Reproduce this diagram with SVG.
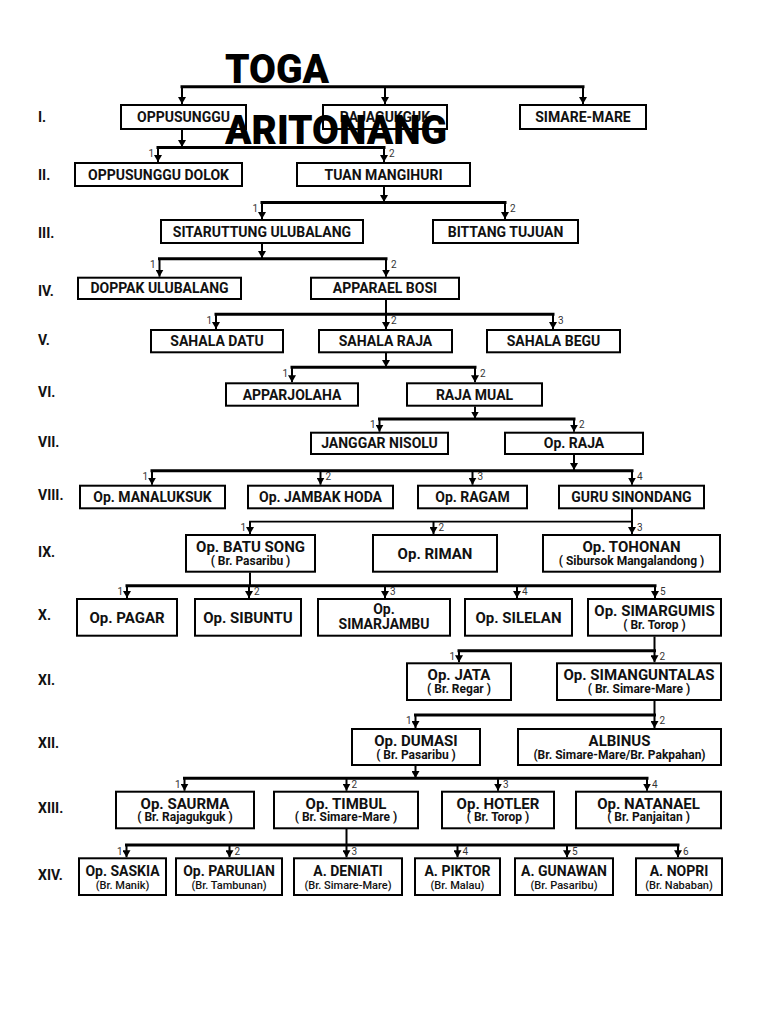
<svg xmlns="http://www.w3.org/2000/svg" width="768" height="1024" viewBox="0 0 768 1024">
<style>
.bg{fill:#fff}
.box{fill:#fff;stroke:#000;stroke-width:2}
.t{font-family:Roboto,"Liberation Sans",sans-serif;font-weight:700;font-size:14px;text-anchor:middle;fill:#111}
.b{font-size:15px}
.b14{font-size:14px}
.s{font-size:12px}
.s2{font-size:11px;font-weight:500}
.bus{stroke:#000;stroke-width:3;fill:none;stroke-linecap:square}
.thin{stroke-width:1.8}
.stem{stroke:#000;stroke-width:2;fill:none}
.n{font-family:Roboto,"Liberation Sans",sans-serif;font-size:10px;fill:#333}
.ne{text-anchor:end}
.lvl{font-family:Roboto,"Liberation Sans",sans-serif;font-weight:700;font-size:14px;fill:#111}
.title{font-family:Roboto,"Liberation Sans",sans-serif;font-weight:900;font-size:41px;fill:#000}
</style>
<defs>
<marker id="ah" markerUnits="userSpaceOnUse" markerWidth="7" markerHeight="8" refX="7" refY="4" orient="auto">
<path d="M0,0 L7,4 L0,8 z" fill="#000"/>
</marker>
</defs>
<rect class="bg" x="0" y="0" width="768" height="1024"/>

<g id="levels">
<text class="lvl" x="38" y="122">I.</text>
<text class="lvl" x="38" y="180">II.</text>
<text class="lvl" x="38" y="238">III.</text>
<text class="lvl" x="38" y="296">IV.</text>
<text class="lvl" x="38" y="345">V.</text>
<text class="lvl" x="38" y="397">VI.</text>
<text class="lvl" x="38" y="447">VII.</text>
<text class="lvl" x="38" y="500">VIII.</text>
<text class="lvl" x="38" y="557">IX.</text>
<text class="lvl" x="38" y="620">X.</text>
<text class="lvl" x="38" y="685">XI.</text>
<text class="lvl" x="38" y="748">XII.</text>
<text class="lvl" x="38" y="813">XIII.</text>
<text class="lvl" x="38" y="880">XIV.</text>
</g>

<g id="connectors">
<!-- root -->
<path class="bus" d="M182,86.7 H583"/>
<path class="stem" d="M182,86.7 V104" marker-end="url(#ah)"/>
<path class="stem" d="M385,86.7 V104" marker-end="url(#ah)"/>
<path class="stem" d="M583,86.7 V104" marker-end="url(#ah)"/>
<!-- II -->
<path class="stem" d="M182,130 V147" marker-end="url(#ah)"/>
<path class="bus" d="M158,147.5 H384"/>
<path class="stem" d="M158,147.5 V162" marker-end="url(#ah)"/>
<path class="stem" d="M384,147.5 V162" marker-end="url(#ah)"/>
<text class="n ne" x="154" y="157">1</text><text class="n" x="389" y="157">2</text>
<!-- III -->
<path class="stem" d="M384,187 V202" marker-end="url(#ah)"/>
<path class="bus" d="M262,202.5 H505"/>
<path class="stem" d="M262,202.5 V219" marker-end="url(#ah)"/>
<path class="stem" d="M505,202.5 V219" marker-end="url(#ah)"/>
<text class="n ne" x="258" y="212">1</text><text class="n" x="510" y="212">2</text>
<!-- IV -->
<path class="stem" d="M262,244 V258" marker-end="url(#ah)"/>
<path class="bus" d="M159.5,258.7 H386"/>
<path class="stem" d="M159.5,258.7 V276.7" marker-end="url(#ah)"/>
<path class="stem" d="M386,258.7 V276.7" marker-end="url(#ah)"/>
<text class="n ne" x="155.5" y="268">1</text><text class="n" x="391" y="268">2</text>
<!-- V -->
<path class="stem" d="M386,300 V314.3"/>
<path class="bus" d="M216,314.3 H553"/>
<path class="stem" d="M216,314.3 V329" marker-end="url(#ah)"/>
<path class="stem" d="M386,314.3 V329" marker-end="url(#ah)"/>
<path class="stem" d="M553,314.3 V329" marker-end="url(#ah)"/>
<text class="n ne" x="212" y="324">1</text><text class="n" x="391" y="324">2</text><text class="n" x="558" y="324">3</text>
<!-- VI -->
<path class="stem" d="M386,353 V367" marker-end="url(#ah)"/>
<path class="bus" d="M292,367.3 H475"/>
<path class="stem" d="M292,367.3 V382.3" marker-end="url(#ah)"/>
<path class="stem" d="M475,367.3 V382.3" marker-end="url(#ah)"/>
<text class="n ne" x="288" y="377">1</text><text class="n" x="480" y="377">2</text>
<!-- VII -->
<path class="stem" d="M475,406.5 V418.5" marker-end="url(#ah)"/>
<path class="bus" d="M379.5,419 H574"/>
<path class="stem" d="M379.5,419 V431.7" marker-end="url(#ah)"/>
<path class="stem" d="M574,419 V431.7" marker-end="url(#ah)"/>
<text class="n ne" x="375.5" y="428">1</text><text class="n" x="579" y="428">2</text>
<!-- VIII -->
<path class="stem" d="M574,455 V470" marker-end="url(#ah)"/>
<path class="bus" d="M152,470.7 H632"/>
<path class="stem" d="M152,470.7 V484.7" marker-end="url(#ah)"/>
<path class="stem" d="M320.5,470.7 V484.7" marker-end="url(#ah)"/>
<path class="stem" d="M472.5,470.7 V484.7" marker-end="url(#ah)"/>
<path class="stem" d="M632,470.7 V484.7" marker-end="url(#ah)"/>
<text class="n ne" x="148" y="480">1</text><text class="n" x="325.5" y="480">2</text><text class="n" x="477.5" y="480">3</text><text class="n" x="637" y="480">4</text>
<!-- IX -->
<path class="stem" d="M632,509 V521.7"/>
<path class="bus thin" d="M250,521.7 H632"/>
<path class="stem" d="M250,521.7 V534" marker-end="url(#ah)"/>
<path class="stem" d="M433.5,521.7 V534" marker-end="url(#ah)"/>
<path class="stem" d="M632,521.7 V534" marker-end="url(#ah)"/>
<text class="n ne" x="246" y="531">1</text><text class="n" x="438.5" y="531">2</text><text class="n" x="637" y="531">3</text>
<!-- X -->
<path class="stem" d="M250,572.5 V585.7"/>
<path class="bus" d="M127,585.7 H655"/>
<path class="stem" d="M127,585.7 V598" marker-end="url(#ah)"/>
<path class="stem" d="M249,585.7 V598" marker-end="url(#ah)"/>
<path class="stem" d="M385,585.7 V598" marker-end="url(#ah)"/>
<path class="stem" d="M517,585.7 V598" marker-end="url(#ah)"/>
<path class="stem" d="M655,585.7 V598" marker-end="url(#ah)"/>
<text class="n ne" x="123" y="595">1</text><text class="n" x="254" y="595">2</text><text class="n" x="390" y="595">3</text><text class="n" x="522" y="595">4</text><text class="n" x="660" y="595">5</text>
<!-- XI -->
<path class="stem" d="M654.5,636.5 V650.7"/>
<path class="bus" d="M459,650.7 H654.5"/>
<path class="stem" d="M459,650.7 V662.3" marker-end="url(#ah)"/>
<path class="stem" d="M654.5,650.7 V662.3" marker-end="url(#ah)"/>
<text class="n ne" x="455" y="660">1</text><text class="n" x="659.5" y="660">2</text>
<!-- XII -->
<path class="stem" d="M654.5,701 V715"/>
<path class="bus" d="M415.5,715 H654.5"/>
<path class="stem" d="M415.5,715 V728" marker-end="url(#ah)"/>
<path class="stem" d="M654.5,715 V728" marker-end="url(#ah)"/>
<text class="n ne" x="411.5" y="724">1</text><text class="n" x="659.5" y="724">2</text>
<!-- XIII -->
<path class="stem" d="M415.5,766 V778" marker-end="url(#ah)"/>
<path class="bus" d="M184.5,778.3 H647"/>
<path class="stem" d="M184.5,778.3 V790.7" marker-end="url(#ah)"/>
<path class="stem" d="M346.5,778.3 V790.7" marker-end="url(#ah)"/>
<path class="stem" d="M498,778.3 V790.7" marker-end="url(#ah)"/>
<path class="stem" d="M647,778.3 V790.7" marker-end="url(#ah)"/>
<text class="n ne" x="180.5" y="788">1</text><text class="n" x="351.5" y="788">2</text><text class="n" x="503" y="788">3</text><text class="n" x="652" y="788">4</text>
<!-- XIV -->
<path class="stem" d="M346.5,829 V845"/>
<path class="bus" d="M126.5,845 H678"/>
<path class="stem" d="M126.5,845 V857.3" marker-end="url(#ah)"/>
<path class="stem" d="M229.5,845 V857.3" marker-end="url(#ah)"/>
<path class="stem" d="M346.5,845 V857.3" marker-end="url(#ah)"/>
<path class="stem" d="M457.5,845 V857.3" marker-end="url(#ah)"/>
<path class="stem" d="M567,845 V857.3" marker-end="url(#ah)"/>
<path class="stem" d="M678,845 V857.3" marker-end="url(#ah)"/>
<text class="n ne" x="122.5" y="855">1</text><text class="n" x="234.5" y="855">2</text><text class="n" x="351.5" y="855">3</text><text class="n" x="462.5" y="855">4</text><text class="n" x="572" y="855">5</text><text class="n" x="683" y="855">6</text>
</g>

<!-- Row I -->
<g id="oppusunggu"><rect class="box" x="121" y="105" width="125" height="24"/><text class="t" x="183.5" y="122">OPPUSUNGGU</text></g>
<g id="rajagukguk"><rect class="box" x="323" y="105" width="124" height="24"/><text class="t" x="385" y="122">RAJAGUKGUK</text></g>
<g id="simare-mare"><rect class="box" x="520" y="105" width="126" height="24"/><text class="t" x="583" y="122">SIMARE-MARE</text></g>
<!-- Row II -->
<g id="oppusunggu-dolok"><rect class="box" x="75" y="163" width="167" height="23"/><text class="t" x="158.5" y="179.5">OPPUSUNGGU DOLOK</text></g>
<g id="tuan-mangihuri"><rect class="box" x="297" y="163" width="173" height="23"/><text class="t" x="383.5" y="179.5">TUAN MANGIHURI</text></g>
<!-- Row III -->
<g id="sitaruttung"><rect class="box" x="161" y="220" width="202" height="23"/><text class="t" x="262" y="236.5">SITARUTTUNG ULUBALANG</text></g>
<g id="bittang"><rect class="box" x="433" y="220" width="145" height="23"/><text class="t" x="505.5" y="236.5">BITTANG TUJUAN</text></g>
<!-- Row IV -->
<g id="doppak"><rect class="box" x="78" y="277.7" width="163" height="21.3"/><text class="t" x="159.5" y="293.3">DOPPAK ULUBALANG</text></g>
<g id="apparael"><rect class="box" x="311" y="277.7" width="148" height="21.3"/><text class="t" x="385" y="293.3">APPARAEL BOSI</text></g>
<!-- Row V -->
<g id="sahala-datu"><rect class="box" x="151" y="330" width="132" height="22.3"/><text class="t" x="217" y="346">SAHALA DATU</text></g>
<g id="sahala-raja"><rect class="box" x="319" y="330" width="133" height="22.3"/><text class="t" x="385.5" y="346">SAHALA RAJA</text></g>
<g id="sahala-begu"><rect class="box" x="487" y="330" width="133" height="22.3"/><text class="t" x="553.5" y="346">SAHALA BEGU</text></g>
<!-- Row VI -->
<g id="apparjolaha"><rect class="box" x="226" y="383.3" width="132" height="22.4"/><text class="t" x="292" y="399.5">APPARJOLAHA</text></g>
<g id="raja-mual"><rect class="box" x="407" y="383.3" width="135" height="22.4"/><text class="t" x="474.5" y="399.5">RAJA MUAL</text></g>
<!-- Row VII -->
<g id="janggar"><rect class="box" x="311" y="432.7" width="137" height="21.3"/><text class="t" x="379.5" y="448.3">JANGGAR NISOLU</text></g>
<g id="op-raja"><rect class="box" x="505" y="432.7" width="138" height="21.3"/><text class="t" x="574" y="448.3">Op. RAJA</text></g>
<!-- Row VIII -->
<g id="manaluksuk"><rect class="box" x="80" y="485.7" width="145" height="22.6"/><text class="t" x="152.5" y="502">Op. MANALUKSUK</text></g>
<g id="jambak-hoda"><rect class="box" x="248" y="485.7" width="145" height="22.6"/><text class="t" x="320.5" y="502">Op. JAMBAK HODA</text></g>
<g id="ragam"><rect class="box" x="418" y="485.7" width="109" height="22.6"/><text class="t" x="472.5" y="502">Op. RAGAM</text></g>
<g id="guru-sinondang"><rect class="box" x="559" y="485.7" width="145" height="22.6"/><text class="t" x="631.5" y="502">GURU SINONDANG</text></g>
<!-- Row IX -->
<g id="batu-song"><rect class="box" x="186" y="535" width="129" height="36.7"/><text class="t b" x="250.5" y="552.3">Op. BATU SONG</text><text class="t s" x="250.5" y="565">( Br. Pasaribu )</text></g>
<g id="riman"><rect class="box" x="373" y="535" width="124" height="36.7"/><text class="t b" x="435" y="558.5">Op. RIMAN</text></g>
<g id="tohonan"><rect class="box" x="543" y="535" width="177" height="36.7"/><text class="t b" x="631.5" y="552.3">Op. TOHONAN</text><text class="t s" x="631.5" y="565">( Sibursok Mangalandong )</text></g>
<!-- Row X -->
<g id="pagar"><rect class="box" x="77" y="599" width="100" height="36.7"/><text class="t b" x="127" y="622.7">Op. PAGAR</text></g>
<g id="sibuntu"><rect class="box" x="195" y="599" width="106" height="36.7"/><text class="t b" x="248" y="622.7">Op. SIBUNTU</text></g>
<g id="simarjambu"><rect class="box" x="318" y="599" width="132" height="36.7"/><text class="t" x="384" y="614">Op.</text><text class="t" x="384" y="628.5">SIMARJAMBU</text></g>
<g id="silelan"><rect class="box" x="465" y="599" width="107" height="36.7"/><text class="t b" x="518.5" y="622.7">Op. SILELAN</text></g>
<g id="simargumis"><rect class="box" x="588" y="599" width="133" height="36.7"/><text class="t b" x="654.5" y="616">Op. SIMARGUMIS</text><text class="t s" x="654.5" y="629">( Br. Torop )</text></g>
<!-- Row XI -->
<g id="jata"><rect class="box" x="407" y="663.3" width="104" height="36.7"/><text class="t b" x="459" y="680">Op. JATA</text><text class="t s" x="459" y="693">( Br. Regar )</text></g>
<g id="simanguntalas"><rect class="box" x="557" y="663.3" width="164" height="36.7"/><text class="t b" x="639" y="680">Op. SIMANGUNTALAS</text><text class="t s" x="639" y="693">( Br. Simare-Mare )</text></g>
<!-- Row XII -->
<g id="dumasi"><rect class="box" x="352" y="729" width="128" height="36"/><text class="t b" x="416" y="746">Op. DUMASI</text><text class="t s" x="416" y="759">( Br. Pasaribu )</text></g>
<g id="albinus"><rect class="box" x="518" y="729" width="203" height="36"/><text class="t b" x="619.5" y="746">ALBINUS</text><text class="t s" x="619.5" y="759">(Br. Simare-Mare/Br. Pakpahan)</text></g>
<!-- Row XIII -->
<g id="saurma"><rect class="box" x="116" y="791.7" width="138" height="36.6"/><text class="t b" x="185" y="808.5">Op. SAURMA</text><text class="t s" x="185" y="821">( Br. Rajagukguk )</text></g>
<g id="timbul"><rect class="box" x="274" y="791.7" width="144" height="36.6"/><text class="t b" x="346" y="808.5">Op. TIMBUL</text><text class="t s" x="346" y="821">( Br. Simare-Mare )</text></g>
<g id="hotler"><rect class="box" x="442" y="791.7" width="112" height="36.6"/><text class="t b" x="498" y="808.5">Op. HOTLER</text><text class="t s" x="498" y="821">( Br. Torop )</text></g>
<g id="natanael"><rect class="box" x="576" y="791.7" width="145" height="36.6"/><text class="t b" x="648.5" y="808.5">Op. NATANAEL</text><text class="t s" x="648.5" y="821">( Br. Panjaitan )</text></g>
<!-- Row XIV -->
<g id="saskia"><rect class="box" x="79" y="858.3" width="87" height="36.7"/><text class="t b14" x="122.5" y="875.5">Op. SASKIA</text><text class="t s2" x="122.5" y="888.5">(Br. Manik)</text></g>
<g id="parulian"><rect class="box" x="176" y="858.3" width="106" height="36.7"/><text class="t b14" x="229" y="875.5">Op. PARULIAN</text><text class="t s2" x="229" y="888.5">(Br. Tambunan)</text></g>
<g id="deniati"><rect class="box" x="294" y="858.3" width="108" height="36.7"/><text class="t b14" x="348" y="875.5">A. DENIATI</text><text class="t s2" x="348" y="888.5">(Br. Simare-Mare)</text></g>
<g id="piktor"><rect class="box" x="415" y="858.3" width="85" height="36.7"/><text class="t b14" x="457.5" y="875.5">A. PIKTOR</text><text class="t s2" x="457.5" y="888.5">(Br. Malau)</text></g>
<g id="gunawan"><rect class="box" x="515" y="858.3" width="98" height="36.7"/><text class="t b14" x="564" y="875.5">A. GUNAWAN</text><text class="t s2" x="564" y="888.5">(Br. Pasaribu)</text></g>
<g id="nopri"><rect class="box" x="636" y="858.3" width="86" height="36.7"/><text class="t b14" x="679" y="875.5">A. NOPRI</text><text class="t s2" x="679" y="888.5">(Br. Nababan)</text></g>

<g id="title">
<text class="title" x="225" y="83" textLength="104" lengthAdjust="spacingAndGlyphs">TOGA</text>
<text class="title" x="225" y="144" textLength="222" lengthAdjust="spacingAndGlyphs">ARITONANG</text>
</g>
</svg>
